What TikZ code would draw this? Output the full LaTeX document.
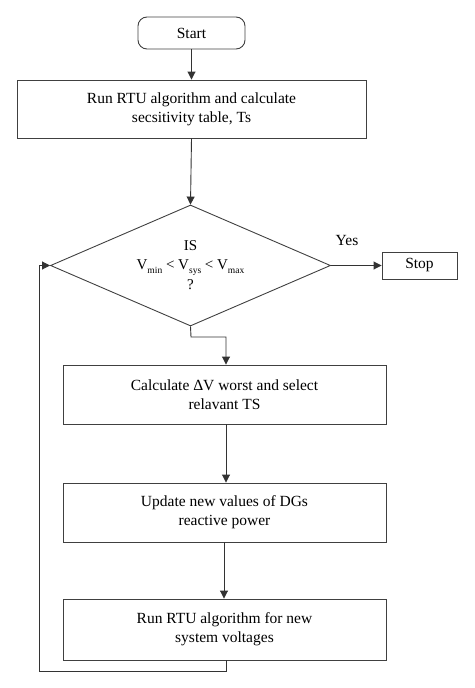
\documentclass[tikz,border=0pt]{standalone}
\usepackage{fontspec}
\setmainfont{Liberation Serif}
\usetikzlibrary{arrows.meta,shapes.geometric}
\begin{document}
\begin{tikzpicture}[x=1pt,y=-1pt,
  line width=0.9pt, draw=black!80,
  box/.style={draw=black!75, line width=0.9pt, rectangle, inner sep=0pt, align=center, text=black, font=\fontsize{15.5}{19}\selectfont},
  arr/.style={draw=black!80, line width=0.9pt, -{Triangle[length=8pt,width=8pt]}},
  sub/.style={},
  ln/.style={draw=black!80, line width=0.9pt}]
\newcommand{\lowsub}[1]{\raisebox{-0.6ex}{\fontsize{9.5}{9.5}\selectfont #1}}
\useasboundingbox (0,0) rectangle (474,688);
\node[box, rounded corners=9pt, minimum width=107pt, minimum height=32pt] (start) at (191.5,33) {Start};
\node[box, minimum width=349pt, minimum height=58pt] (b1) at (191.5,109) {Run RTU algorithm and calculate\\secsitivity table, Ts};
\node[draw=black!75, line width=0.9pt, diamond, aspect=2.31, minimum width=280pt, minimum height=121pt, inner sep=0pt, align=center, text=black, font=\fontsize{15}{19}\selectfont] (d) at (190.5,265.5)
  {IS\\V\lowsub{min} {<} V\lowsub{sys} {<} V\lowsub{max}\\[1pt]?};
\node[box, minimum width=75pt, minimum height=27pt] (stop) at (419.5,265.5) {Stop};
\node[font=\fontsize{15.5}{18}\selectfont, text=black] (yes) at (347,240) {Yes};
\node[box, minimum width=323pt, minimum height=59pt] (b2) at (224.5,394.5) {Calculate ΔV worst and select\\relavant TS};
\node[box, minimum width=323pt, minimum height=59pt] (b3) at (224.5,512.5) {Update new values of DGs\\reactive power};
\node[box, minimum width=323pt, minimum height=61pt] (b4) at (224.5,629.5) {Run RTU algorithm for new\\system voltages};
\draw[arr] (start.south) -- (b1.north);
\draw[arr] (b1.south) -- (d.north);
\draw[arr] (d.east) -- (stop.west);
\coordinate (c1) at (191,337);
\coordinate (c2) at (226,337);
\draw[arr] (d.south) -- (c1) -- (c2) -- (c2 |- b2.north);
\draw[arr] (b2.south -| 226,0) -- (b3.north -| 226,0);
\draw[arr] (b3.south -| 224,0) -- (b4.north -| 224,0);
\coordinate (l1) at (226,671);
\coordinate (l2) at (39,671);
\coordinate (l3) at (39,265.5);
\draw[arr] (b4.south -| 226,0) -- (l1) -- (l2) -- (l3) -- (d.west);
\end{tikzpicture}
\end{document}
